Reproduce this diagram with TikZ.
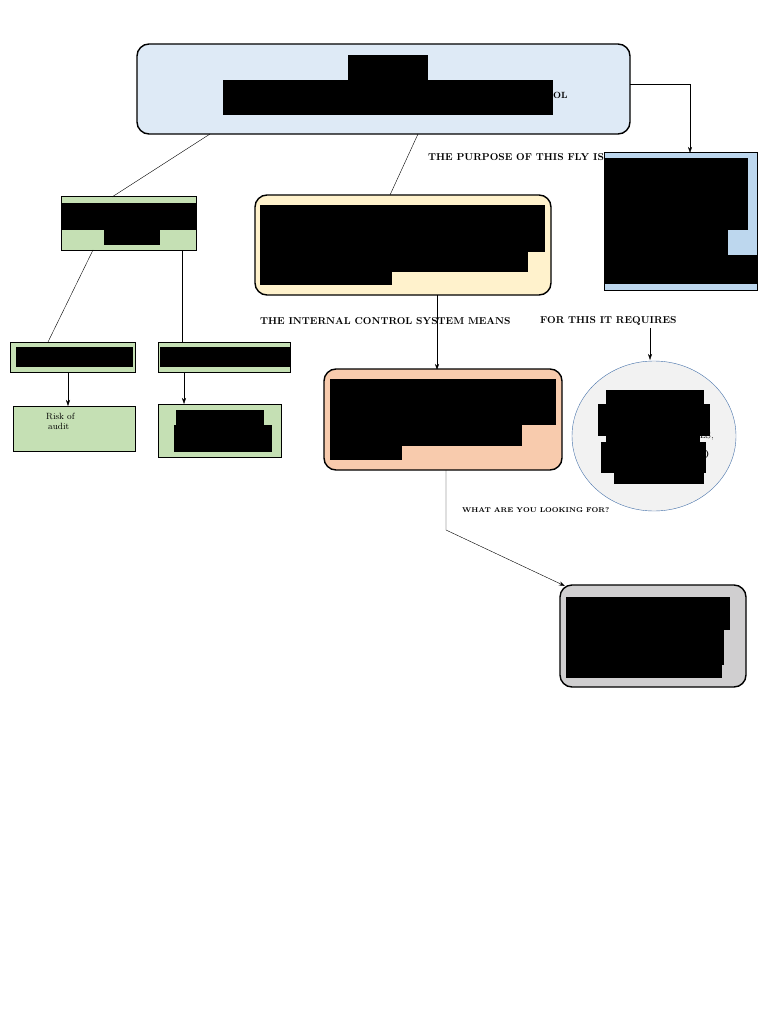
\documentclass[tikz,border=0pt]{standalone}
\usetikzlibrary{arrows.meta}
\begin{document}
\begin{tikzpicture}[x=1pt,y=-1pt,
 bx/.style={draw=black,line width=1pt},
 rbx/.style={draw=black,line width=1.4pt,rounded corners=12pt},
 red/.style={fill=black},
 lbl/.style={font=\bfseries\fontsize{10}{12}\selectfont,anchor=west,inner sep=0pt},
 arr/.style={-{Stealth[length=6pt,width=4pt]}}]
\definecolor{lblue}{RGB}{222,234,246}
\definecolor{rblue}{RGB}{189,215,238}
\definecolor{lgreen}{RGB}{197,224,180}
\definecolor{lyel}{RGB}{255,242,204}
\definecolor{lor}{RGB}{248,203,173}
\definecolor{lgr}{RGB}{208,207,208}
\definecolor{cedge}{RGB}{70,114,170}
\useasboundingbox (0,0) rectangle (768,1024);
% top
\draw[rbx,fill=lblue] (137,44) rectangle (630,134);
\fill[red] (348,55) rectangle (428,82);
\fill[red] (223,80) rectangle (553,115);
\node[lbl,font=\bfseries\small] (ol) at (553,95) {OL};
% right box
\draw[bx,fill=rblue] (604,153) rectangle (757,290);
\fill[red] (604,158) rectangle (748,230);
\fill[red] (604,225) rectangle (728,260);
\fill[red] (604,255) rectangle (757,284);
\coordinate (tr) at (630,84);
\coordinate (rb) at (690,153);
\draw[arr] (tr) -| (rb);
\node[lbl] (purp) at (428,157) {THE PURPOSE OF THIS FLY IS};
% left green
\draw[bx,fill=lgreen] (61,197) rectangle (196,250);
\fill[red] (62,203) rectangle (196,230);
\fill[red] (104,230) rectangle (160,245);
\draw (210,134) -- (112,197);
\draw (418,134) -- (390,195);
\draw (93,250) -- (48,342);
\draw (182,250) -- (182,342);
\draw[bx,fill=lgreen] (10,342) rectangle (135,372);
\fill[red] (16,347) rectangle (133,367);
\draw[bx,fill=lgreen] (158,342) rectangle (290,372);
\fill[red] (160,347) rectangle (290,367);
\draw[arr] (68,372) -- (68,406);
\draw[arr] (184,372) -- (184,404);
\draw[bx,fill=lgreen] (13,406) rectangle (135,451);
\node[font=\small,align=left,anchor=north west,inner sep=0pt] (risk) at (46,413) {Risk of\\[-1pt]\hspace*{2pt}audit};
\draw[bx,fill=lgreen] (158,404) rectangle (281,457);
\fill[red] (176,410) rectangle (264,425);
\fill[red] (174,425) rectangle (272,452);
% yellow
\draw[rbx,fill=lyel] (255,195) rectangle (551,295);
\fill[red] (260,205) rectangle (545,252);
\fill[red] (260,250) rectangle (528,272);
\fill[red] (260,270) rectangle (392,285);
\draw[arr] (437,295) -- (437,370);
\node[lbl] (icm) at (260,321) {THE INTERNAL CONTROL SYSTEM MEANS};
\node[lbl] (req) at (540,321) {FOR THIS IT REQUIRES};
\draw[arr] (650,328) -- (650,360);
% orange
\draw[rbx,fill=lor] (324,369) rectangle (562,470);
\fill[red] (330,379) rectangle (556,425);
\fill[red] (330,420) rectangle (522,446);
\fill[red] (330,444) rectangle (402,460);
% circle
\draw[draw=cedge,fill=black!5] (654,436) ellipse (82 and 75);
\node[font=\small,anchor=west,inner sep=0pt] at (700,436) {LS,};
\node[font=\large,anchor=west,inner sep=0pt] at (700,454) {D};
\fill[red] (606,390) rectangle (704,410);
\fill[red] (598,404) rectangle (710,436);
\fill[red] (606,436) rectangle (700,445);
\fill[red] (601,442) rectangle (706,473);
\fill[red] (614,470) rectangle (704,484);
% gray
\draw[rbx,fill=lgr] (560,585) rectangle (746,687);
\fill[red] (566,597) rectangle (730,630);
\fill[red] (566,628) rectangle (724,665);
\fill[red] (566,663) rectangle (722,678);
\draw[arr] (446,470) -- (446,530) -- (565,586);
\node[lbl,font=\bfseries\fontsize{7}{8}\selectfont] (look) at (462,510) {WHAT ARE YOU LOOKING FOR?};
\end{tikzpicture}
\end{document}
